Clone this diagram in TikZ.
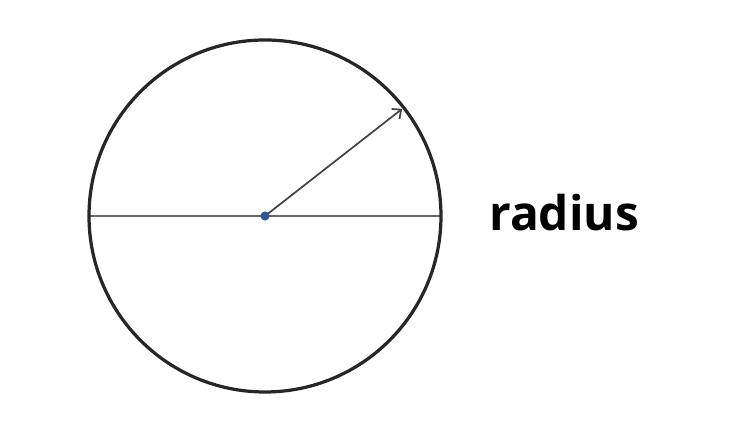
\documentclass[tikz,border=0pt]{standalone}
\usepackage{fontspec}
\setmainfont{Open Sans}
\usetikzlibrary{arrows.meta}
\begin{document}
\begin{tikzpicture}[x=0.025cm, y=0.025cm]
                    \useasboundingbox (0,0) rectangle (739,438);
                    \coordinate (O) at (265,222);
                    \coordinate (W) at ([shift=(180:176)] O);
                    \coordinate (E) at ([shift=(0:176)] O);
                    \coordinate (R) at ([shift=(38:174)] O);

                    \draw[gray!80!black, line width=0.9pt] (W) -- (E);
                    \draw[black!85, line width=2.3pt] (O) circle (176);
                    \draw[black!75, line width=1.2pt, -{Straight Barb[length=5pt, width=9pt]}] (O) -- (R);
                    \node[circle, fill={rgb,255:red,47;green,85;blue,151}, inner sep=0pt, minimum size=6.5pt] (c) at (O) {};
                    \node[anchor=base west, inner sep=0pt, font=\fontsize{34}{40}\selectfont\bfseries] (label) at (489,207) {radius};
                \end{tikzpicture}
\end{document}
